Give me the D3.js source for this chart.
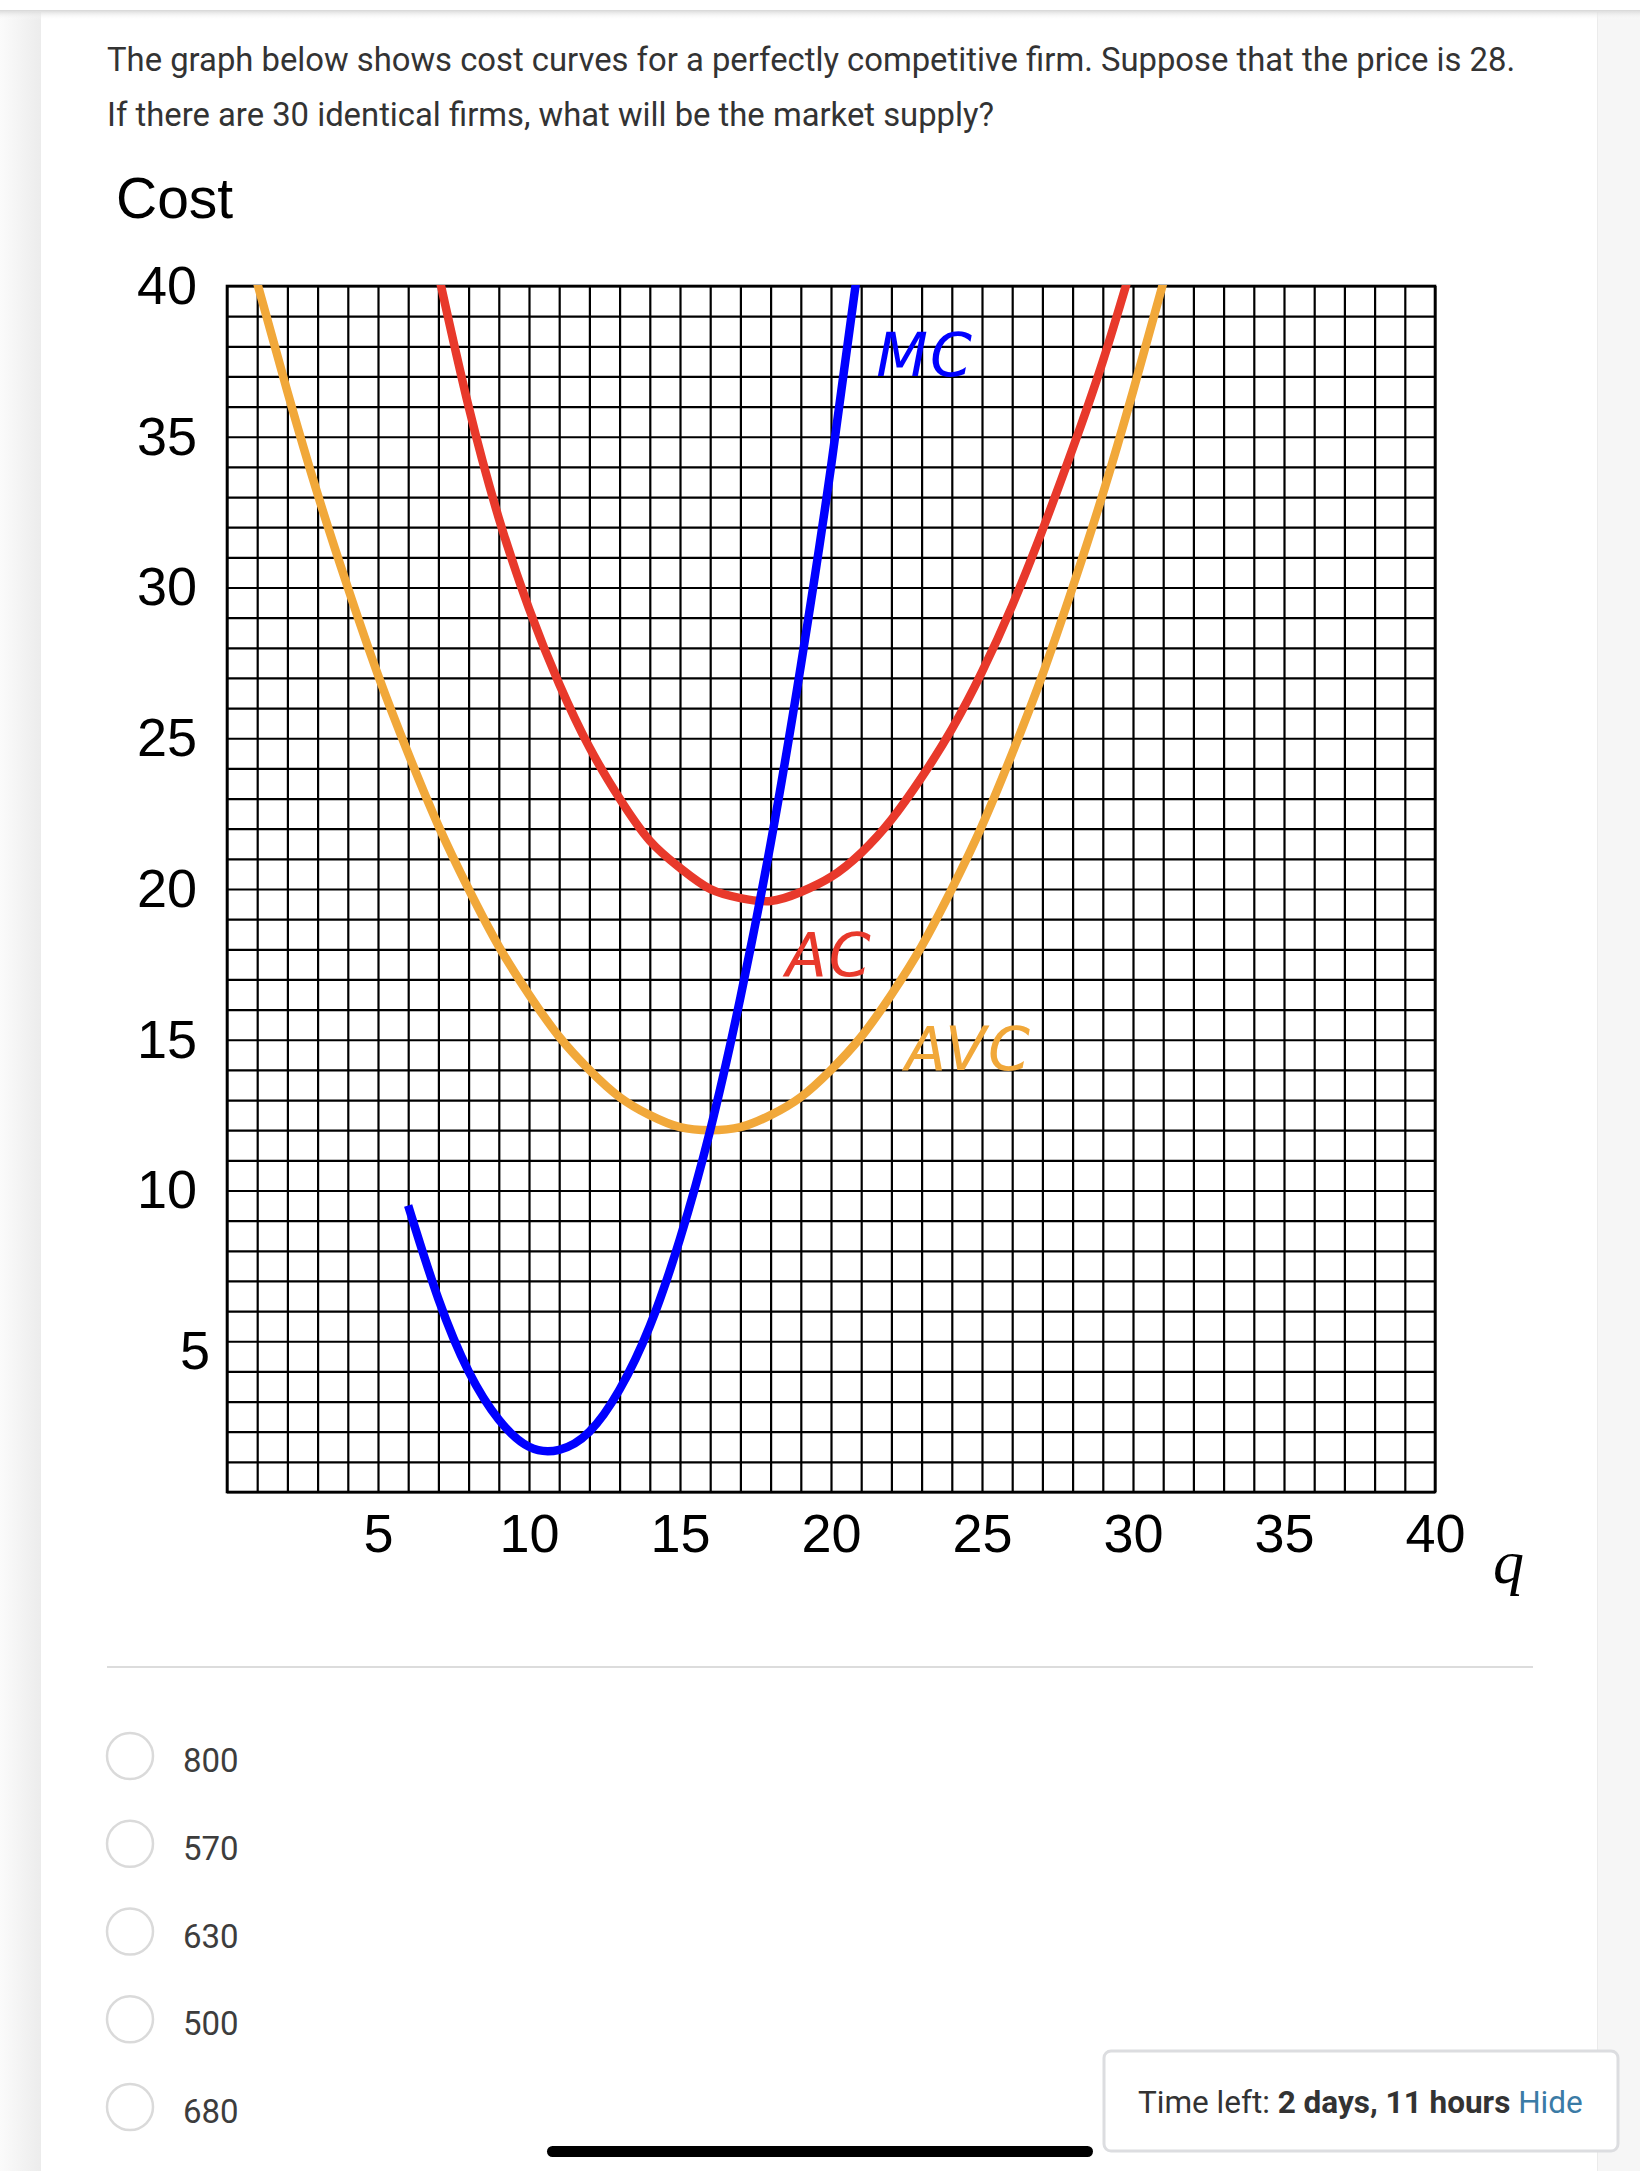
<!DOCTYPE html>
<html>
<head>
<meta charset="utf-8">
<script src="https://cdn.jsdelivr.net/npm/d3@7"></script>
<style>
  html, body { margin: 0; padding: 0; background: #fff; }
  svg { display: block; }
</style>
</head>
<body>
<svg width="1640" height="2171"></svg>
<script>
const question = [
  "The graph below shows cost curves for a perfectly competitive firm. Suppose that the price is 28.",
  "If there are 30 identical firms, what will be the market supply?"
];
const choices = ["800", "570", "630", "500", "680"];

const xTicks = [5, 10, 15, 20, 25, 30, 35, 40];
const yTicks = [5, 10, 15, 20, 25, 30, 35, 40];

// curves (q, cost)
const mcQ = [6, 7, 8, 9, 10, 11, 12, 13, 14, 15, 16, 17, 18, 19, 20, 21];
const mcCost = [9.5, 6.4, 4.0, 2.4, 1.5, 1.4, 2.0, 3.4, 5.5, 8.4, 12.0, 16.4, 21.5, 27.4, 34.0, 41.4];

const acQ = [7, 8, 9, 10, 11, 12, 13, 14, 15, 16, 17, 18, 19, 20, 21, 22, 23, 24, 25, 26, 27, 28, 29, 30];
const acCost = [40.4, 36.0, 32.3, 29.3, 26.8, 24.7, 23.0, 21.6, 20.7, 20.0, 19.7, 19.6, 19.9, 20.4, 21.2, 22.3, 23.7, 25.3, 27.2, 29.4, 31.9, 34.6, 37.5, 40.8];

const avcQ = [1, 2, 3, 4, 5, 6, 7, 8, 9, 10, 11, 12, 13, 14, 15, 16, 17, 18, 19, 20, 21, 22, 23, 24, 25, 26, 27, 28, 29, 30, 31];
const avcCost = [40.1, 36.5, 33.1, 30.0, 27.1, 24.5, 22.1, 20.0, 18.1, 16.5, 15.1, 14.0, 13.1, 12.5, 12.1, 12.0, 12.1, 12.5, 13.1, 14.0, 15.1, 16.5, 18.1, 20.0, 22.1, 24.5, 27.1, 30.0, 33.1, 36.5, 40.1];

const curveNames = ["MC", "AC", "AVC"];
const labelQ = [21.5, 18.5, 22.45];
const labelCost = [37.0, 17.1, 14.0];

const colors = { MC: "#0000ff", AC: "#e8392b", AVC: "#f1a83a" };

const svg = d3.select("svg");

// ---- page chrome ----
const defs = svg.append("defs");
const topShade = defs.append("linearGradient").attr("id", "topShade")
  .attr("x1", 0).attr("y1", 0).attr("x2", 0).attr("y2", 1);
topShade.append("stop").attr("offset", "0%").attr("stop-color", "#d6d6d6");
topShade.append("stop").attr("offset", "100%").attr("stop-color", "#ffffff").attr("stop-opacity", 0);
const leftShade = defs.append("linearGradient").attr("id", "leftShade")
  .attr("x1", 0).attr("y1", 0).attr("x2", 1).attr("y2", 0);
leftShade.append("stop").attr("offset", "0%").attr("stop-color", "#fbfbfb");
leftShade.append("stop").attr("offset", "100%").attr("stop-color", "#ececec");

svg.append("rect").attr("x", 0).attr("y", 12).attr("width", 41).attr("height", 2171)
  .attr("fill", "url(#leftShade)");
svg.append("rect").attr("x", 1597).attr("y", 12).attr("width", 43).attr("height", 2171)
  .attr("fill", "#f6f6f6");
svg.append("line").attr("x1", 1597.5).attr("x2", 1597.5).attr("y1", 12).attr("y2", 2171)
  .attr("stroke", "#ebebeb").attr("stroke-width", 1);
svg.append("rect").attr("x", 0).attr("y", 10).attr("width", 1640).attr("height", 10)
  .attr("fill", "url(#topShade)");

// question text
svg.append("g").selectAll("text")
  .data(question)
  .join("text")
  .attr("x", 107)
  .attr("y", (d, i) => 71 + i * 55)
  .attr("font-family", "Roboto, sans-serif")
  .attr("font-size", 32.8)
  .attr("fill", "#333")
  .text(d => d);

// ---- chart ----
const plotLeft = 227, plotRight = 1435, plotTop = 286, plotBottom = 1492;
const x = d3.scaleLinear().domain([0, 40]).range([plotLeft, plotRight]);
const y = d3.scaleLinear().domain([0, 40]).range([plotBottom, plotTop]);

const grid = svg.append("g");
grid.append("g")
  .attr("transform", `translate(0,${plotBottom})`)
  .call(d3.axisBottom(x).tickValues(d3.range(0, 41)).tickSize(-(plotBottom - plotTop)).tickFormat(""))
  .call(g => g.select(".domain").remove());
grid.append("g")
  .attr("transform", `translate(${plotLeft},0)`)
  .call(d3.axisLeft(y).tickValues(d3.range(0, 41)).tickSize(-(plotRight - plotLeft)).tickFormat(""))
  .call(g => g.select(".domain").remove());
grid.selectAll(".tick line").attr("stroke", "#000").attr("stroke-width", 2.2);
grid.append("rect")
  .attr("x", plotLeft).attr("y", plotTop)
  .attr("width", plotRight - plotLeft).attr("height", plotBottom - plotTop)
  .attr("fill", "none").attr("stroke", "#000").attr("stroke-width", 2.6);

// tick labels
const xAxis = svg.append("g")
  .attr("transform", `translate(0,${plotBottom})`)
  .call(d3.axisBottom(x).tickValues(xTicks).tickSize(0).tickPadding(22));
const yAxis = svg.append("g")
  .attr("transform", `translate(${plotLeft},0)`)
  .call(d3.axisLeft(y).tickValues(yTicks).tickSize(0).tickPadding(30));
[xAxis, yAxis].forEach(a => {
  a.select(".domain").remove();
  a.selectAll("text")
    .attr("font-family", "'Liberation Sans', Arial, sans-serif")
    .attr("font-size", 54)
    .attr("fill", "#000");
});
// the 5 on the cost axis sits a little right and low in the original
yAxis.selectAll(".tick").filter(d => d === 5).select("text")
  .attr("dx", 13).attr("dy", "0.5em");

svg.append("text")
  .attr("x", 116).attr("y", 218)
  .attr("font-family", "'Liberation Sans', Arial, sans-serif")
  .attr("font-size", 57)
  .text("Cost");

svg.append("text")
  .attr("x", 1493).attr("y", 1583)
  .attr("font-family", "'Liberation Serif', serif")
  .attr("font-style", "italic")
  .attr("font-size", 62)
  .text("q");

// curves
defs.append("clipPath").attr("id", "plotClip")
  .append("rect").attr("x", plotLeft).attr("y", plotTop - 1)
  .attr("width", plotRight - plotLeft).attr("height", plotBottom - plotTop + 1);

const line = d3.line()
  .x(d => x(d[0]))
  .y(d => y(d[1]))
  .curve(d3.curveNatural);

const series = [
  { name: "AVC", pts: d3.zip(avcQ, avcCost) },
  { name: "AC", pts: d3.zip(acQ, acCost) },
  { name: "MC", pts: d3.zip(mcQ, mcCost) }
];

svg.append("g").attr("clip-path", "url(#plotClip)")
  .selectAll("path")
  .data(series)
  .join("path")
  .attr("d", d => line(d.pts))
  .attr("fill", "none")
  .attr("stroke", d => colors[d.name])
  .attr("stroke-width", 8.5);

svg.append("g").selectAll("text")
  .data(curveNames)
  .join("text")
  .attr("x", (d, i) => x(labelQ[i]))
  .attr("y", (d, i) => y(labelCost[i]))
  .attr("font-family", "'DejaVu Sans', sans-serif")
  .attr("font-style", "italic")
  .attr("font-size", 60)
  .attr("letter-spacing", 2)
  .attr("fill", d => colors[d])
  .text(d => d);

// ---- answer choices ----
svg.append("line")
  .attr("x1", 107).attr("x2", 1533).attr("y1", 1667).attr("y2", 1667)
  .attr("stroke", "#dcdcdc").attr("stroke-width", 2);

const cy = d3.scaleLinear().domain([0, 4]).range([1756, 2107]);
const opts = svg.append("g").selectAll("g")
  .data(choices)
  .join("g")
  .attr("transform", (d, i) => `translate(0,${cy(i)})`);
opts.append("circle")
  .attr("cx", 130).attr("r", 23)
  .attr("fill", "#fff").attr("stroke", "#dadada").attr("stroke-width", 2.5);
opts.append("text")
  .attr("x", 183).attr("y", 16)
  .attr("font-family", "Roboto, sans-serif")
  .attr("font-size", 33)
  .attr("fill", "#3d3d3d")
  .text(d => d);

// time left box
svg.append("rect")
  .attr("x", 1104).attr("y", 2051).attr("width", 514).attr("height", 100).attr("rx", 7)
  .attr("fill", "#fff").attr("stroke", "#dcdde0").attr("stroke-width", 3);
const tl = svg.append("text")
  .attr("x", 1138).attr("y", 2113)
  .attr("font-family", "Roboto, sans-serif")
  .attr("font-size", 31.5)
  .attr("fill", "#333");
tl.append("tspan").text("Time left: ");
tl.append("tspan").attr("font-weight", "bold").text("2 days, 11 hours");
tl.append("tspan").attr("fill", "#3b7ba6").text(" Hide");

svg.append("rect")
  .attr("x", 547).attr("y", 2146).attr("width", 546).attr("height", 11).attr("rx", 5.5)
  .attr("fill", "#000");
</script>
</body>
</html>
